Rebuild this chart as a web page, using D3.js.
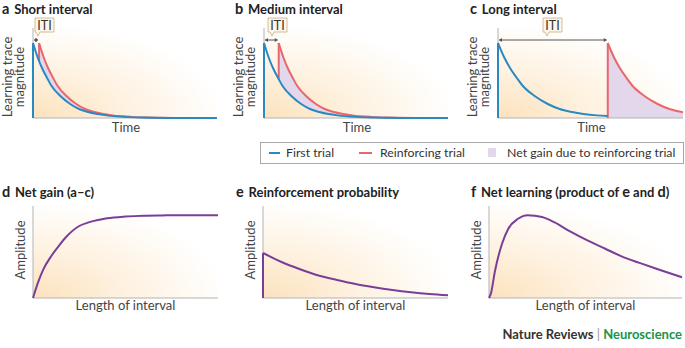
<!DOCTYPE html>
<html>
<head>
<meta charset="utf-8">
<script src="https://cdn.jsdelivr.net/npm/d3@7"></script>
<style>
  body { margin: 0; background: #fff; }
  svg { display: block; font-family: Lato, "Open Sans", sans-serif; }
</style>
</head>
<body>
<svg id="chart"></svg>
<script>
const traceT = [0, 0.25, 0.5, 0.75, 1, 1.5, 2, 2.5, 3, 4, 5, 6, 8, 10];
const traceV = [1, 0.81, 0.66, 0.54, 0.43, 0.29, 0.19, 0.12, 0.08, 0.035, 0.015, 0.007, 0.001, 0];

// top row: titles, inter-trial interval and time span per panel
const topLetters = ['a', 'b', 'c'];
const topTitles = ['Short interval', 'Medium interval', 'Long interval'];
const itiTimes = [0.33, 0.8, 4.45];
const timeMax = [10, 10, 7.5];

// bottom row curves (x = length of interval, y = amplitude)
const gainT = [0, 0.25, 0.54, 1, 1.4, 1.8, 2.5, 3, 3.6, 4, 5, 6, 7, 8, 10];
const gainV = [0, 0.16, 0.31, 0.47, 0.58, 0.68, 0.8, 0.84, 0.87, 0.885, 0.905, 0.915, 0.918, 0.92, 0.92];
const probT = [0, 1, 2, 3, 4, 5, 6, 7, 8, 9, 10];
const probV = [0.5, 0.4, 0.32, 0.25, 0.2, 0.155, 0.12, 0.09, 0.065, 0.045, 0.03];
const learnT = [0, 0.1, 0.31, 0.67, 1, 1.5, 2, 2.75, 3.4, 4.2, 5.1, 6, 6.9, 7.8, 8.6, 10];
const learnV = [0, 0.05, 0.3, 0.6, 0.77, 0.88, 0.92, 0.9, 0.84, 0.74, 0.64, 0.55, 0.46, 0.39, 0.33, 0.23];

const legendLabels = ['First trial', 'Reinforcing trial', 'Net gain due to reinforcing trial'];

const W = 685, H = 348;
const blue = '#2b89c2', red = '#e8676b', purple = '#7b3e98', fillPurple = '#e3d7ec', axisGrey = '#b3b3b3';
const labelSize = '13px';

const svg = d3.select('#chart').attr('width', W).attr('height', H);

const defs = svg.append('defs');
const grad = defs.append('radialGradient')
    .attr('id', 'bg').attr('cx', 0).attr('cy', 1).attr('r', 1.05);
grad.append('stop').attr('offset', '0%').attr('stop-color', '#fce2bd');
grad.append('stop').attr('offset', '50%').attr('stop-color', '#fef2e1');
grad.append('stop').attr('offset', '100%').attr('stop-color', '#ffffff');

function interp(ts, vs, t) {
  if (t <= ts[0]) return vs[0];
  for (let i = 1; i < ts.length; i++) {
    if (t <= ts[i]) {
      const f = (t - ts[i - 1]) / (ts[i] - ts[i - 1]);
      return vs[i - 1] + f * (vs[i] - vs[i - 1]);
    }
  }
  return vs[vs.length - 1];
}
const traceAt = t => interp(traceT, traceV, t);

// segments: [text, big?] ; big segments are panel letters
function title(g, x, y, segs) {
  const t = g.append('text').attr('x', x).attr('y', y)
      .attr('font-weight', 'bold').attr('fill', '#222');
  segs.forEach(([s, big]) => {
    t.append('tspan').style('font-size', big ? '14.5px' : '13px').text(s);
  });
}

// ---- top row ----
const topLayout = [
  { x0: 33, x1: 217, tx: 2, boxX: 35, ptrX: 38, cutBlue: false },
  { x0: 264, x1: 448, tx: 235, boxX: 268, ptrX: 272, cutBlue: false },
  { x0: 498, x1: 683, tx: 470, boxX: 543, ptrX: 547, cutBlue: true }
];
const yTop = 28, yBase = 118, yPeak = 43, arrowY = 40;

topLayout.forEach((p, k) => {
  const g = svg.append('g');
  const iti = itiTimes[k], tmax = timeMax[k];
  const x = d3.scaleLinear().domain([0, tmax]).range([p.x0, p.x1]);
  const y = d3.scaleLinear().domain([0, 1]).range([yBase, yPeak]);

  title(g, p.tx, 14, [[topLetters[k], true], ['\u2009 ' + topTitles[k], false]]);

  g.append('rect').attr('x', p.x0).attr('y', yTop)
      .attr('width', p.x1 - p.x0).attr('height', yBase - yTop)
      .attr('fill', 'url(#bg)');

  const line = d3.line().x(d => x(d[0])).y(d => y(d[1])).curve(d3.curveMonotoneX);

  // blue trace
  let bluePts = traceT.map((t, i) => [t, traceV[i]]).filter(d => d[0] <= tmax);
  if (p.cutBlue) {
    bluePts = bluePts.filter(d => d[0] < iti);
    bluePts.push([iti, traceAt(iti)]);
  }
  // red trace, shifted by ITI
  let redPts = traceT.map((t, i) => [t + iti, traceV[i]]).filter(d => d[0] < tmax);
  redPts.push([tmax, traceAt(tmax - iti)]);
  const lo = p.cutBlue ? 0 : traceAt(iti);

  // net gain fill between red and blue
  const area = d3.area()
      .x(d => x(d[0]))
      .y0(d => y(p.cutBlue ? 0 : traceAt(d[0])))
      .y1(d => y(d[1]))
      .curve(d3.curveMonotoneX);
  g.append('path').datum(redPts).attr('d', area).attr('fill', fillPurple);

  // axes
  g.append('line').attr('x1', p.x0).attr('x2', p.x0).attr('y1', yTop).attr('y2', yBase)
      .attr('stroke', axisGrey);
  g.append('line').attr('x1', p.x0).attr('x2', p.x1).attr('y1', yBase).attr('y2', yBase)
      .attr('stroke', axisGrey);

  const vline = d3.line().x(d => x(d[0])).y(d => y(d[1]));
  g.append('path').datum(redPts).attr('d', line)
      .attr('fill', 'none').attr('stroke', red).attr('stroke-width', 2);
  g.append('path').datum([[iti, lo], [iti, 1]]).attr('d', vline)
      .attr('fill', 'none').attr('stroke', red).attr('stroke-width', 2);
  g.append('path').datum(bluePts).attr('d', line)
      .attr('fill', 'none').attr('stroke', blue).attr('stroke-width', 2);
  g.append('path').datum([[0, 0], [0, 1]]).attr('d', vline)
      .attr('fill', 'none').attr('stroke', blue).attr('stroke-width', 2);

  // ITI arrow
  const ax0 = x(0), ax1 = x(iti);
  g.append('line').attr('x1', ax0 + 1).attr('x2', ax1 - 1).attr('y1', arrowY).attr('y2', arrowY)
      .attr('stroke', '#555').attr('stroke-width', 1);
  [[ax0 + 1, 1], [ax1 - 1, -1]].forEach(([ax, s]) => {
    g.append('path')
        .attr('d', `M${ax},${arrowY} l${3 * s},-2 l0,4 z`)
        .attr('fill', '#555');
  });

  // ITI callout
  const bw = 19, bh = 14, by = 18;
  g.append('path')
      .attr('d', `M${p.boxX},${by} h${bw} v${bh} H${p.ptrX + 2} l-2,4 l-2,-4 H${p.boxX} z`)
      .attr('fill', '#fdf7ea').attr('stroke', '#c9ab7f').attr('stroke-width', 0.8);
  g.append('text').attr('x', p.boxX + bw / 2).attr('y', by + 11.5)
      .attr('text-anchor', 'middle').style('font-size', '12.5px').attr('fill', '#333')
      .text('ITI');

  // axis labels
  g.append('text').attr('x', (p.x0 + p.x1) / 2 + 1).attr('y', 132)
      .attr('text-anchor', 'middle').style('font-size', labelSize).attr('fill', '#444')
      .text('Time');
  const yl = g.append('text')
      .attr('transform', `translate(${p.x0 - 21},77) rotate(-90)`)
      .attr('text-anchor', 'middle').style('font-size', labelSize).attr('fill', '#444');
  yl.append('tspan').attr('x', 0).attr('y', 0).text('Learning trace');
  yl.append('tspan').attr('x', 0).attr('y', 12).text('magnitude');
});

// ---- legend ----
const lg = svg.append('g');
lg.append('rect').attr('x', 260.5).attr('y', 142.5).attr('width', 423).attr('height', 21)
    .attr('fill', '#fff').attr('stroke', '#aaa');
lg.append('line').attr('x1', 269).attr('x2', 280).attr('y1', 153).attr('y2', 153)
    .attr('stroke', blue).attr('stroke-width', 2);
lg.append('line').attr('x1', 359).attr('x2', 372).attr('y1', 153).attr('y2', 153)
    .attr('stroke', red).attr('stroke-width', 2);
lg.append('rect').attr('x', 488).attr('y', 148).attr('width', 8).attr('height', 9)
    .attr('fill', fillPurple);
[286, 380, 507].forEach((lx, i) => {
  lg.append('text').attr('x', lx).attr('y', 157).style('font-size', '12.3px')
      .attr('fill', '#333').text(legendLabels[i]);
});

// ---- bottom row ----
const botTitles = [
  [['d', true], ['\u2009 Net gain (a\u2013c)', false]],
  [['e', true], ['\u2009 Reinforcement probability', false]],
  [['f', true], ['\u2009 Net learning (product of ', false], ['e', true], [' and ', false], ['d', true], [')', false]]
];
const botLayout = [
  { x0: 33, x1: 218, tx: 2 },
  { x0: 263, x1: 448, tx: 236 },
  { x0: 489, x1: 682, tx: 471 }
];
const yTop2 = 206, yBase2 = 298, yPeak2 = 208;
const botData = [[gainT, gainV], [probT, probV], [learnT, learnV]];

botLayout.forEach((p, k) => {
  const g = svg.append('g');
  const x = d3.scaleLinear().domain([0, 10]).range([p.x0, p.x1]);
  const y = d3.scaleLinear().domain([0, 1]).range([yBase2, yPeak2]);

  title(g, p.tx, 197, botTitles[k]);

  g.append('rect').attr('x', p.x0).attr('y', yTop2)
      .attr('width', p.x1 - p.x0).attr('height', yBase2 - yTop2)
      .attr('fill', 'url(#bg)');
  g.append('line').attr('x1', p.x0).attr('x2', p.x0).attr('y1', yTop2).attr('y2', yBase2)
      .attr('stroke', axisGrey);
  g.append('line').attr('x1', p.x0).attr('x2', p.x1).attr('y1', yBase2).attr('y2', yBase2)
      .attr('stroke', axisGrey);

  const [ts, vs] = botData[k];
  const pts = ts.map((t, i) => [t, vs[i]]);
  const line = d3.line().x(d => x(d[0])).y(d => y(d[1])).curve(d3.curveMonotoneX);
  if (vs[0] > 0) {
    g.append('path').datum([[0, 0], [0, vs[0]]])
        .attr('d', d3.line().x(d => x(d[0])).y(d => y(d[1])))
        .attr('stroke', purple).attr('stroke-width', 2).attr('fill', 'none');
  }
  g.append('path').datum(pts).attr('d', line)
      .attr('fill', 'none').attr('stroke', purple).attr('stroke-width', 2);

  g.append('text').attr('x', (p.x0 + p.x1) / 2).attr('y', 310)
      .attr('text-anchor', 'middle').style('font-size', labelSize).attr('fill', '#444')
      .text('Length of interval');
  g.append('text')
      .attr('transform', `translate(${p.x0 - 8},250) rotate(-90)`)
      .attr('text-anchor', 'middle').style('font-size', labelSize).attr('fill', '#444')
      .text('Amplitude');
});

// journal credit
const credit = svg.append('text').attr('x', 682).attr('y', 339)
    .attr('text-anchor', 'end').attr('font-weight', 'bold').style('font-size', '13px');
credit.append('tspan').attr('fill', '#333').text('Nature Reviews ');
credit.append('tspan').attr('fill', '#999').attr('font-weight', 'normal').text('|');
credit.append('tspan').attr('fill', '#17944c').text(' Neuroscience');
</script>
</body>
</html>
